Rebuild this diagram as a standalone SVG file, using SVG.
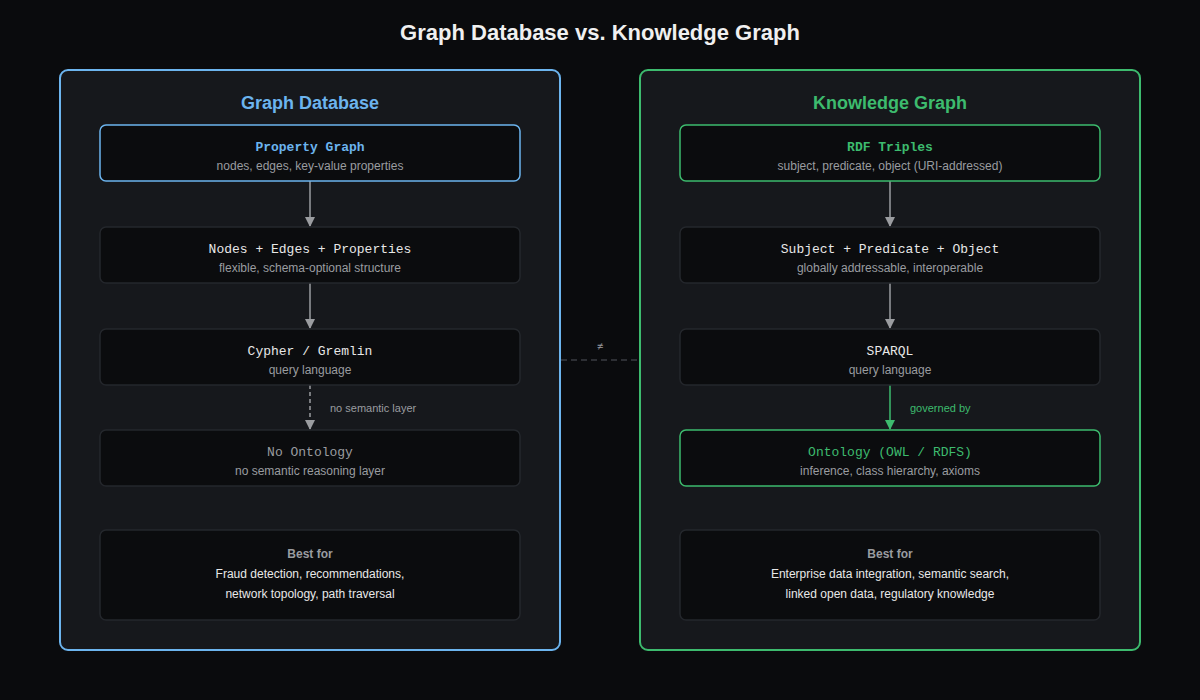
<svg xmlns="http://www.w3.org/2000/svg" width="1200" height="700" viewBox="0 0 1200 700">
<defs>
<marker id="ag" viewBox="0 0 10 10" refX="9" refY="5" markerWidth="10" markerHeight="14" markerUnits="userSpaceOnUse" orient="auto"><path d="M0,0L10,5L0,10Z" fill="#9a9ca0"/></marker>
<marker id="agr" viewBox="0 0 10 10" refX="9" refY="5" markerWidth="10" markerHeight="14" markerUnits="userSpaceOnUse" orient="auto"><path d="M0,0L10,5L0,10Z" fill="#3dbb6e"/></marker>
<style>
.panel{fill:#16181c;stroke-width:2}
.n{fill:#0b0c0e;stroke:#24272c;stroke-width:1.5}
.t{font-family:"Liberation Mono",monospace;font-size:13px;fill:#e8e8e8;text-anchor:middle}
.s{font-family:"Liberation Sans",Arial,sans-serif;font-size:12px;fill:#9a9ca0;text-anchor:middle}
.h{font-family:"Liberation Sans",Arial,sans-serif;font-size:18px;font-weight:bold;text-anchor:middle}
.w{font-family:"Liberation Sans",Arial,sans-serif;font-size:12px;fill:#e8e8e8;text-anchor:middle}
.e{stroke:#9a9ca0;stroke-width:1.5;fill:none}
.l{font-family:"Liberation Sans",Arial,sans-serif;font-size:11px;fill:#9a9ca0}
</style>
</defs>
<rect width="1200" height="700" fill="#0a0b0d"/>
<text x="600" y="40" class="h" style="font-size:22px" fill="#f0f0f0">Graph Database vs. Knowledge Graph</text>
<g id="left">
<rect x="60" y="70" width="500" height="580" rx="8" class="panel" stroke="#6cb4ee"/>
<text x="310" y="109" class="h" fill="#6cb4ee">Graph Database</text>
</g>
<g id="right">
<rect x="640" y="70" width="500" height="580" rx="8" class="panel" stroke="#3dbb6e"/>
<text x="890" y="109" class="h" fill="#3dbb6e">Knowledge Graph</text>
</g>
<g id="connectors">
<line x1="310" y1="181" x2="310" y2="226" class="e" marker-end="url(#ag)"/>
<line x1="310" y1="283" x2="310" y2="328" class="e" marker-end="url(#ag)"/>
<line x1="310" y1="385" x2="310" y2="429" class="e" stroke-dasharray="4,3" marker-end="url(#ag)"/>
<text x="330" y="412" class="l">no semantic layer</text>
<line x1="890" y1="181" x2="890" y2="226" class="e" marker-end="url(#ag)"/>
<line x1="890" y1="283" x2="890" y2="328" class="e" marker-end="url(#ag)"/>
<line x1="890" y1="385" x2="890" y2="429" class="e" style="stroke:#3dbb6e" marker-end="url(#agr)"/>
<text x="910" y="412" class="l" fill="#3dbb6e" style="fill:#3dbb6e">governed by</text>
<line x1="561" y1="360" x2="639" y2="360" stroke="#3a3d42" stroke-width="1.5" stroke-dasharray="6,4"/>
<text x="600" y="350" class="s" style="font-size:11px">≠</text>
</g>
<g id="property-graph"><rect x="100" y="125" width="420" height="56" rx="6" class="n" style="stroke:#6cb4ee"/>
<text x="310" y="151" class="t" style="fill:#6cb4ee;font-weight:bold">Property Graph</text><text x="310" y="170" class="s">nodes, edges, key-value properties</text></g>
<g id="nep"><rect x="100" y="227" width="420" height="56" rx="6" class="n"/>
<text x="310" y="253" class="t">Nodes + Edges + Properties</text><text x="310" y="272" class="s">flexible, schema-optional structure</text></g>
<g id="cypher"><rect x="100" y="329" width="420" height="56" rx="6" class="n"/>
<text x="310" y="355" class="t">Cypher / Gremlin</text><text x="310" y="374" class="s">query language</text></g>
<g id="no-ontology"><rect x="100" y="430" width="420" height="56" rx="6" class="n"/>
<text x="310" y="456" class="t" style="fill:#9a9ca0">No Ontology</text><text x="310" y="475" class="s">no semantic reasoning layer</text></g>
<g id="best-left"><rect x="100" y="530" width="420" height="90" rx="6" class="n"/>
<text x="310" y="558" class="s" style="font-weight:bold">Best for</text><text x="310" y="578" class="w">Fraud detection, recommendations,</text><text x="310" y="598" class="w">network topology, path traversal</text></g>
<g id="rdf"><rect x="680" y="125" width="420" height="56" rx="6" class="n" style="stroke:#3dbb6e"/>
<text x="890" y="151" class="t" style="fill:#3dbb6e;font-weight:bold">RDF Triples</text><text x="890" y="170" class="s">subject, predicate, object (URI-addressed)</text></g>
<g id="spo"><rect x="680" y="227" width="420" height="56" rx="6" class="n"/>
<text x="890" y="253" class="t">Subject + Predicate + Object</text><text x="890" y="272" class="s">globally addressable, interoperable</text></g>
<g id="sparql"><rect x="680" y="329" width="420" height="56" rx="6" class="n"/>
<text x="890" y="355" class="t">SPARQL</text><text x="890" y="374" class="s">query language</text></g>
<g id="ontology"><rect x="680" y="430" width="420" height="56" rx="6" class="n" style="stroke:#3dbb6e"/>
<text x="890" y="456" class="t" style="fill:#3dbb6e">Ontology (OWL / RDFS)</text><text x="890" y="475" class="s">inference, class hierarchy, axioms</text></g>
<g id="best-right"><rect x="680" y="530" width="420" height="90" rx="6" class="n"/>
<text x="890" y="558" class="s" style="font-weight:bold">Best for</text><text x="890" y="578" class="w">Enterprise data integration, semantic search,</text><text x="890" y="598" class="w">linked open data, regulatory knowledge</text></g>
</svg>
